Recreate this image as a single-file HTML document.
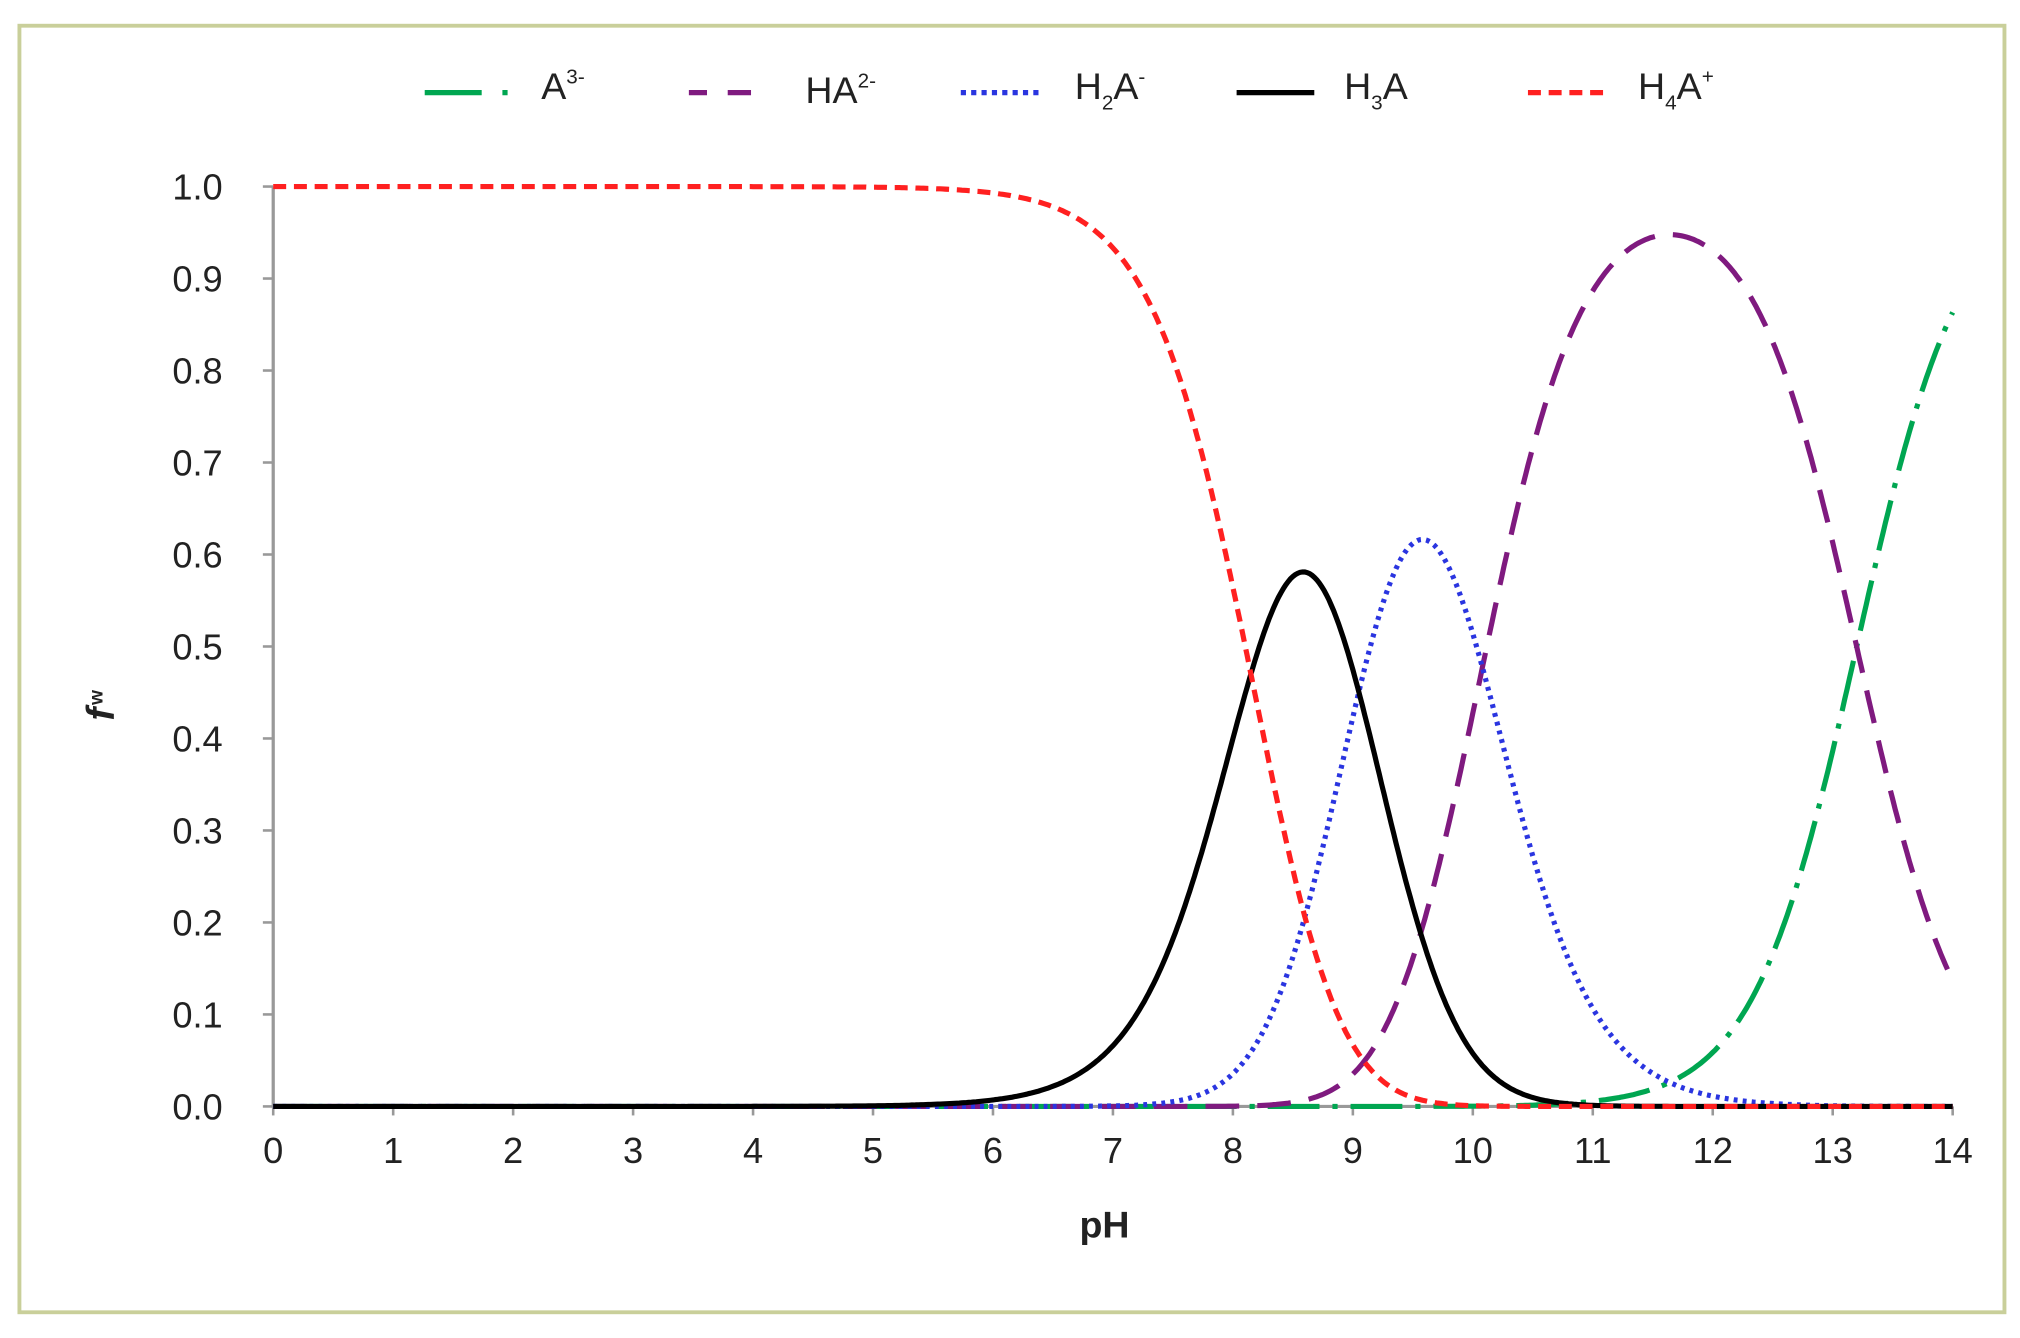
<!DOCTYPE html>
<html><head><meta charset="utf-8"><style>
html,body{margin:0;padding:0;background:#fff;}
svg{display:block;}
text{font-family:"Liberation Sans",sans-serif;fill:#222;}
</style></head><body>
<svg id="s" width="2020" height="1338" viewBox="0 0 1560 1040" preserveAspectRatio="none" xmlns="http://www.w3.org/2000/svg">
<rect x="15" y="20" width="1533" height="1000" fill="#fff" stroke="#c9cf9a" stroke-width="3"/>
<g stroke="#999" stroke-width="2.5">
<line x1="211" y1="145" x2="211" y2="861"/>
<line x1="211" y1="860" x2="1508" y2="860"/>
</g>
<g id="ticks" stroke="#999" stroke-width="2"></g>
<g id="ylab" font-size="28" text-anchor="end"></g>
<g id="xlab" font-size="28" text-anchor="middle"></g>
<text x="853" y="962" font-size="29" font-weight="bold" text-anchor="middle">pH</text>
<g transform="translate(88,560) rotate(-90)"><text x="0" y="0" font-size="30" font-style="italic" font-weight="bold" font-family="Liberation Serif,serif">f</text><text x="12" y="-9" font-size="15" font-weight="bold">w</text></g>
<g id="curves" fill="none"></g>
<g stroke-width="4" fill="none">
<path d="M328 72 H372 M388 72 H392" stroke="#00a651"/>
<path d="M532 72 H546 M562 72 H590" stroke="#7f1a7f" stroke-dasharray="18 12"/>
<path d="M742 72 H806" stroke="#2a35e0" stroke-dasharray="4 4"/>
<path d="M955 72 H1015" stroke="#000"/>
<path d="M1180 72 H1242" stroke="#ff2020" stroke-dasharray="10 6"/>
</g>
<g font-size="29">
<text x="418" y="77">A<tspan font-size="16" dy="-12">3-</tspan></text>
<text x="622" y="80">HA<tspan font-size="16" dy="-12">2-</tspan></text>
<text x="830" y="77">H<tspan font-size="16" dy="8">2</tspan><tspan dy="-8">A</tspan><tspan font-size="16" dy="-12">-</tspan></text>
<text x="1038" y="77">H<tspan font-size="16" dy="8">3</tspan><tspan dy="-8">A</tspan></text>
<text x="1265" y="77">H<tspan font-size="16" dy="8">4</tspan><tspan dy="-8">A</tspan><tspan font-size="16" dy="-12">+</tspan></text>
</g>
</svg>
<script>
var NS="http://www.w3.org/2000/svg";
function X(p){return 211+p*(1508-211)/14;}
function Y(v){return 860-v*715;}
function el(t,a,parent,txt){var e=document.createElementNS(NS,t);for(var k in a)e.setAttribute(k,a[k]);if(txt!==undefined)e.textContent=txt;document.getElementById(parent).appendChild(e);}
for(var i=0;i<=10;i++){var y=Y(i/10);el("line",{x1:203,x2:211,y1:y,y2:y},"ticks");el("text",{x:172,y:y+10},"ylab",(i/10).toFixed(1));}
for(var i=0;i<=14;i++){var x=X(i);el("line",{x1:x,x2:x,y1:860,y2:867},"ticks");el("text",{x:x,y:904},"xlab",String(i));}
var pk=[8.15,9.05,10.08,13.2];
function frac(p){var h=Math.pow(10,-p);var K=pk.map(function(k){return Math.pow(10,-k)});
var t=[h*h*h*h,h*h*h*K[0],h*h*K[0]*K[1],h*K[0]*K[1]*K[2],K[0]*K[1]*K[2]*K[3]];var s=t.reduce(function(a,b){return a+b});return t.map(function(v){return v/s});}
var pts=[[],[],[],[],[]];
for(var p=0;p<=14.0001;p+=0.02){var f=frac(p);for(var j=0;j<5;j++)pts[j].push(X(p).toFixed(1)+","+Y(f[j]).toFixed(1));}
var sty=[
{stroke:"#ff2020","stroke-dasharray":"10 6"},
{stroke:"#000"},
{stroke:"#2a35e0","stroke-dasharray":"3 4"},
{stroke:"#7f1a7f","stroke-dasharray":"26 14"},
{stroke:"#00a651","stroke-dasharray":"40 10 4 10"}];
[4,3,2,1,0].forEach(function(j){var a=sty[j];a.d="M"+pts[j].join(" L");a["stroke-width"]=4;el("path",a,"curves");});
</script>
</body></html>
